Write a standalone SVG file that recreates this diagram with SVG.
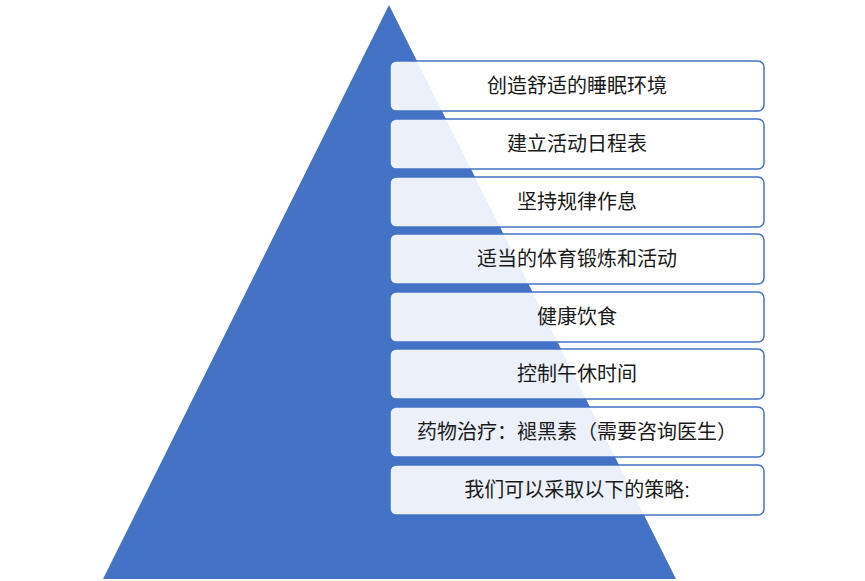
<svg xmlns="http://www.w3.org/2000/svg" width="865" height="581" viewBox="0 0 865 581">
<style>
.b{fill:#fff;fill-opacity:0.9;stroke:#4472C4;stroke-width:1.5}
.t{font-family:"Liberation Sans","Noto Sans CJK SC",sans-serif;font-size:20px;fill:#1a1a1a;text-anchor:middle;dominant-baseline:central}
</style>
<rect width="865" height="581" fill="#fff"/>
<g id="pyramid"><polygon points="389,5 676,579 103,579" fill="#4472C4"/></g>
<g id="connectors"></g>
<g id="n1"><rect class="b" x="390" y="61" width="374" height="50" rx="6"/><text class="t" x="577" y="86">创造舒适的睡眠环境</text></g>
<g id="n2"><rect class="b" x="390" y="119" width="374" height="50" rx="6"/><text class="t" x="577" y="144">建立活动日程表</text></g>
<g id="n3"><rect class="b" x="390" y="177" width="374" height="50" rx="6"/><text class="t" x="577" y="202">坚持规律作息</text></g>
<g id="n4"><rect class="b" x="390" y="234" width="374" height="50" rx="6"/><text class="t" x="577" y="259">适当的体育锻炼和活动</text></g>
<g id="n5"><rect class="b" x="390" y="292" width="374" height="50" rx="6"/><text class="t" x="577" y="317">健康饮食</text></g>
<g id="n6"><rect class="b" x="390" y="349" width="374" height="50" rx="6"/><text class="t" x="577" y="374">控制午休时间</text></g>
<g id="n7"><rect class="b" x="390" y="407" width="374" height="50" rx="6"/><text class="t" x="577" y="432">药物治疗：褪黑素（需要咨询医生）</text></g>
<g id="n8"><rect class="b" x="390" y="465" width="374" height="50" rx="6"/><text class="t" x="577" y="490">我们可以采取以下的策略:</text></g>
</svg>
